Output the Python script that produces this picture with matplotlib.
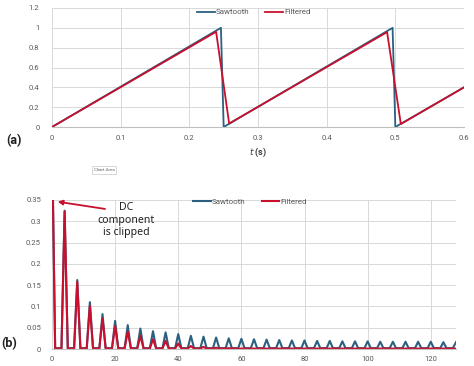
import matplotlib.pyplot as plt
import numpy as np

plt.rcParams['font.family'] = ['Roboto', 'DejaVu Sans']

BLUE = '#2B6081'
RED = '#C8102E'
GRID = '#D9D9D9'
TXT = '#595959'

# (a) time signal, polyline vertices
saw_t = [0.0, 0.246, 0.250, 0.496, 0.500, 0.600]
saw_v = [0.0, 1.0, 0.0, 1.0, 0.0, 0.40]
filt_t = [0.0, 0.239, 0.258, 0.488, 0.508, 0.600]
filt_v = [0.0, 0.960, 0.035, 0.957, 0.030, 0.40]

# (b) spectrum, harmonic peaks every 4 bins
n_bins = 129
dc_value = 0.5
peak_bins = list(range(4, 129, 4))
saw_peaks = [0.325, 0.162, 0.110, 0.082, 0.066, 0.056, 0.048, 0.042,
             0.039, 0.035, 0.031, 0.029, 0.027, 0.025, 0.024, 0.023,
             0.022, 0.021, 0.020, 0.020, 0.019, 0.019, 0.018, 0.018,
             0.018, 0.017, 0.017, 0.017, 0.017, 0.017, 0.016, 0.016]
filt_peaks = [0.323, 0.158, 0.101, 0.072, 0.054, 0.041, 0.031, 0.023,
              0.019, 0.013, 0.007, 0.005, 0.003, 0.002, 0.001, 0.001,
              0.001, 0.001, 0.001, 0.001, 0.001, 0.001, 0.001, 0.001,
              0.001, 0.001, 0.001, 0.001, 0.001, 0.001, 0.001, 0.001]
saw_base = 0.002
filt_base = 0.001

bins = np.arange(n_bins)
saw_mag = np.full(n_bins, saw_base)
saw_mag[0] = dc_value
saw_mag[peak_bins] = saw_peaks
filt_mag = np.full(n_bins, filt_base)
filt_mag[0] = dc_value
filt_mag[peak_bins] = filt_peaks


def style_axes(ax):
    for s in ['top', 'right', 'left']:
        ax.spines[s].set_visible(False)
    ax.spines['bottom'].set_color('#BFBFBF')
    ax.spines['bottom'].set_linewidth(0.8)
    ax.grid(True, color=GRID, linewidth=0.7)
    ax.set_axisbelow(True)
    ax.tick_params(length=0, labelsize=5.5, labelcolor=TXT)


fig = plt.figure(figsize=(4.74, 3.66), dpi=100)

# --- (a)
ax1 = fig.add_axes([52 / 474, 1 - 127 / 366, 412 / 474, 119 / 366])
style_axes(ax1)
ax1.plot(saw_t, saw_v, color=BLUE, lw=1.3, label='Sawtooth')
ax1.plot(filt_t, filt_v, color=RED, lw=1.3, label='Filtered')
ax1.set_xlim(0, 0.6)
ax1.set_ylim(0, 1.2)
ax1.set_xticks(np.arange(0, 0.61, 0.1))
ax1.set_xticklabels(['0', '0.1', '0.2', '0.3', '0.4', '0.5', '0.6'])
ax1.set_yticks(np.arange(0, 1.21, 0.2))
ax1.set_yticklabels(['0', '0.2', '0.4', '0.6', '0.8', '1', '1.2'])
ax1.tick_params(axis='y', pad=9)
ax1.tick_params(axis='x', pad=6)
ax1.set_xlabel(r'$\bf{\it{t}}$ (s)', fontsize=6.5, fontweight='bold',
               color='#404040', labelpad=3)
ax1.legend(loc='center', bbox_to_anchor=(0.49, 0.966), ncol=2, frameon=False,
           fontsize=5.8, labelcolor=TXT, handlelength=2.2, handletextpad=0.1,
           columnspacing=2.0, borderpad=0)

# --- (b)
ax2 = fig.add_axes([52 / 474, 1 - 349 / 366, 404 / 474, 149 / 366])
style_axes(ax2)
ax2.plot(bins, saw_mag, color=BLUE, lw=1.5, label='Sawtooth')
ax2.plot(bins, filt_mag, color=RED, lw=1.5, label='Filtered')
ax2.set_xlim(0, 128)
ax2.set_ylim(0, 0.35)
ax2.set_xticks(np.arange(0, 121, 20))
ax2.set_yticks(np.arange(0, 0.351, 0.05))
ax2.set_yticklabels(['0', '0.05', '0.1', '0.15', '0.2', '0.25', '0.3', '0.35'])
ax2.tick_params(axis='y', pad=8)
ax2.tick_params(axis='x', pad=5)
ax2.legend(loc='center', bbox_to_anchor=(0.49, 0.987), ncol=2, frameon=False,
           fontsize=5.8, labelcolor=TXT, handlelength=2.2, handletextpad=0.1,
           columnspacing=2.0, borderpad=0)

ax2.annotate('', xy=(1.8, 0.346), xytext=(16.8, 0.329),
             arrowprops=dict(arrowstyle='-|>', color=RED, lw=1.3,
                             mutation_scale=7, shrinkA=0, shrinkB=0))
ax2.text(23.4, 0.303, 'DC\ncomponent\nis clipped', ha='center', va='center',
         fontsize=7.6, family=['Noto Sans', 'DejaVu Sans'], color='#202020',
         linespacing=1.2)

# labels and the stray tooltip
fig.text(14 / 474, 1 - 141 / 366, '(a)', fontsize=9, fontweight='bold',
         ha='center', va='center', color='#202020')
fig.text(9 / 474, 1 - 344 / 366, '(b)', fontsize=9, fontweight='bold',
         ha='center', va='center', color='#202020')
fig.text(104 / 474, 1 - 170 / 366, 'Chart Area', fontsize=3.2, color='#606060',
         ha='center', va='center',
         bbox=dict(boxstyle='square,pad=0.4', fc='white', ec='#C8C8C8', lw=0.5))

fig.savefig('out.png', dpi=100)
